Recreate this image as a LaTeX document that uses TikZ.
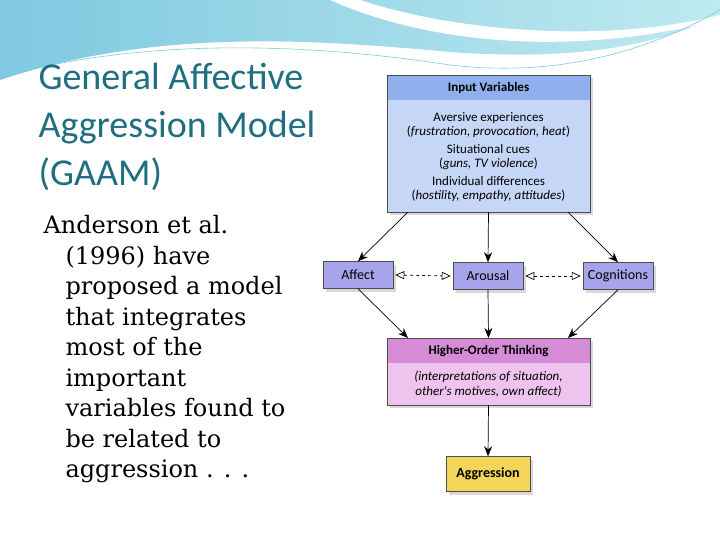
\documentclass[tikz,border=0pt]{standalone}
\usepackage{fontspec}
\setmainfont{DejaVu Serif}
\newfontfamily\titlefont{Carlito}
\newfontfamily\diafont{Carlito}
\usetikzlibrary{arrows.meta,shadows}
\definecolor{teal1}{HTML}{1F6F80}
\definecolor{inhead}{HTML}{8FB0EC}
\definecolor{inbody}{HTML}{C5D6F6}
\definecolor{mid}{HTML}{A8A4EC}
\definecolor{hothead}{HTML}{D58BD5}
\definecolor{hotbody}{HTML}{EEC4EE}
\definecolor{aggr}{HTML}{F3D659}
\definecolor{wave1}{HTML}{7FC9E0}
\definecolor{wave2}{HTML}{BFEAF0}
\tikzset{
  box/.style={draw=black!70, line width=0.5pt, drop shadow={shadow xshift=3pt,shadow yshift=-3pt,fill=black!30}},
  midbox/.style={box, fill=mid, minimum width=70pt, minimum height=27pt, font=\diafont\fontsize{14}{16}\selectfont},
  arr/.style={-{Stealth[length=10pt,width=8pt]}, line width=0.7pt},
  dasharr/.style={{Triangle[open,length=9pt,width=8pt]}-{Triangle[open,length=9pt,width=8pt]}, dashed, line width=0.7pt, shorten <=2pt, shorten >=2pt},
  lbl/.style={font=\diafont\fontsize{13}{14.5}\selectfont, align=center},
}
\begin{document}
\begin{tikzpicture}[x=1pt,y=-1pt]
\useasboundingbox (0,0) rectangle (720,540);
% top wave
\shade[left color=wave1, right color=wave2] (0,0) -- (720,0) -- (720,15)
  .. controls (650,50) and (560,60) .. (450,52)
  .. controls (300,38) and (150,30) .. (0,80) -- cycle;
\fill[white] (330,0) .. controls (420,40) and (560,60) .. (720,20) -- (720,15)
  .. controls (600,45) and (450,30) .. (360,0) -- cycle;
\draw[wave1, line width=0.6pt] (20,72) .. controls (150,40) and (300,42) .. (450,65) .. controls (560,78) and (650,50) .. (720,10);
% title
\node[anchor=north west, align=left, text=teal1, font=\titlefont\fontsize{38}{48}\selectfont] (title) at (35,60)
 {General Affective\\Aggression Model\\(GAAM)};
\node[anchor=north west, align=left, font=\fontsize{24}{30.5}\selectfont] (body) at (40,212)
 {Anderson et al.\\\hspace*{22pt}(1996) have\\\hspace*{22pt}proposed a model\\\hspace*{22pt}that integrates\\\hspace*{22pt}most of the\\\hspace*{22pt}important\\\hspace*{22pt}variables found to\\\hspace*{22pt}be related to\\\hspace*{22pt}aggression . . .};
% input box
\filldraw[box, fill=inbody] (387,75) rectangle (590,212);
\fill[inhead] (387.3,75.3) rectangle (589.7,100);
\draw[black!70, line width=0.5pt] (387,75) rectangle (590,212);
\node[lbl, font=\diafont\bfseries\fontsize{13}{15}\selectfont] (inhdr) at (488.5,88) {Input Variables};
\node[lbl] (intxt) at (488.5,157) {Aversive experiences\\(\textit{frustration, provocation, heat})\\[3pt]Situational cues\\(\textit{guns, TV violence})\\[3pt]Individual differences\\(\textit{hostility, empathy, attitudes})};
% mid boxes
\node[midbox] (affect) at (358,275) {Affect};
\node[midbox] (arousal) at (488,276) {Arousal};
\node[midbox] (cogn) at (618,276) {Cognitions};
% HOT
\filldraw[box, fill=hotbody] (387,338) rectangle (590,405);
\fill[hothead] (387.3,338.3) rectangle (589.7,363);
\draw[black!70, line width=0.5pt] (387,338) rectangle (590,405);
\node[lbl, font=\diafont\bfseries\fontsize{13}{15}\selectfont] (hothdr) at (488.5,351) {Higher-Order Thinking};
\node[lbl] (hottxt) at (488.5,384) {\textit{(interpretations of situation,}\\\textit{other's motives, own affect)}};
% aggression
\node[box, fill=aggr, minimum width=84pt, minimum height=35pt, font=\diafont\bfseries\fontsize{14}{16}\selectfont] (aggr) at (488,474) {Aggression};
% arrows
\draw[arr] (408,212) -- (affect.north);
\draw[arr] (488.5,212) -- (arousal.north);
\draw[arr] (568,212) -- (cogn.north);
\draw[arr] (affect.south) -- (408,338);
\draw[arr] (arousal.south) -- (488.5,338);
\draw[arr] (cogn.south) -- (568,338);
\draw[arr] (488.5,405) -- (aggr.north);
\draw[dasharr] (affect.east) -- (arousal.west);
\draw[dasharr] (arousal.east) -- (cogn.west);
\end{tikzpicture}
\end{document}
